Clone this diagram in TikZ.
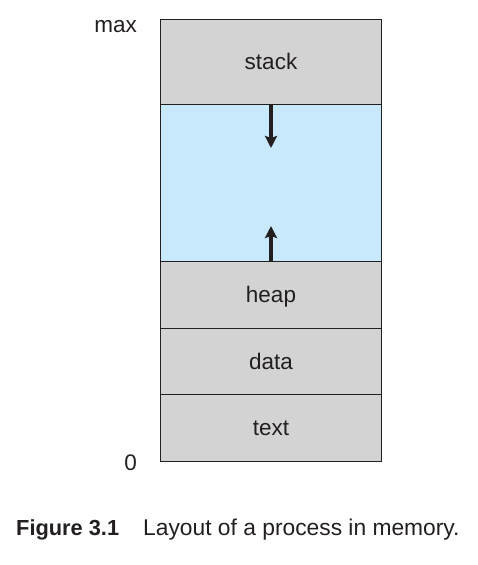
\documentclass[tikz,border=0pt]{standalone}
\usepackage{fontspec}
\setmainfont{Liberation Sans}
\usetikzlibrary{arrows.meta}
\definecolor{seg}{HTML}{D3D3D4}
\definecolor{free}{HTML}{C7E9FB}
\definecolor{ink}{HTML}{231F20}
\tikzset{
  segbox/.style={draw=ink, line width=1pt, fill=seg, minimum width=221pt, inner sep=0pt, text height=15pt, text depth=0pt, font=\fontsize{22.5pt}{26pt}\selectfont, text=ink},
  freebox/.style={segbox, fill=free},
  growarrow/.style={line width=4pt, draw=ink, -{Stealth[length=12pt,width=12pt,inset=2pt]}},
  lbl/.style={font=\fontsize{22.5pt}{26pt}\selectfont, text=ink, inner sep=0pt}
}
\begin{document}
\begin{tikzpicture}[x=1pt,y=-1pt]
\useasboundingbox (0,0) rectangle (478,565);
\node[segbox, minimum height=85pt, anchor=north west] (stack) at (160,19) {stack};
\node[freebox, minimum height=157pt, anchor=north west] (free) at (160,104) {};
\node[segbox, minimum height=67pt, anchor=north west] (heap) at (160,261) {heap};
\node[segbox, minimum height=66pt, anchor=north west] (data) at (160,328) {data};
\node[segbox, minimum height=67pt, anchor=north west] (text) at (160,394) {text};
\coordinate (downend) at (271,148);
\coordinate (upend) at (271,226);
\draw[growarrow] (271,104) -- (downend);
\draw[growarrow] (271,261) -- (upend);
\node[lbl, anchor=base east] (max) at (137,32) {max};
\node[lbl, anchor=base east] (zero) at (137,470) {0};
\node[lbl, anchor=base west, font=\fontsize{21.8pt}{26pt}\selectfont\bfseries] (fig) at (16,535) {Figure 3.1};
\node[lbl, anchor=base west, font=\fontsize{22.8pt}{26pt}\selectfont] (cap) at (143,535) {Layout of a process in memory.};
\end{tikzpicture}
\end{document}
